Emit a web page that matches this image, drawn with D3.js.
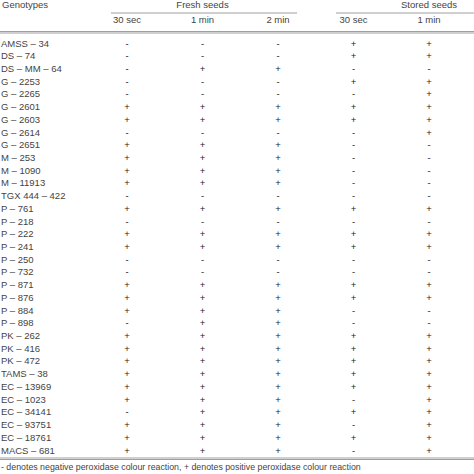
<!DOCTYPE html>
<html><head><meta charset="utf-8">
<script src="https://cdn.jsdelivr.net/npm/d3@7"></script>
<style>body{margin:0;background:#fff}svg{display:block}</style>
</head><body><svg id="chart" width="474" height="474"></svg>
<script>
var genotypes = ["AMSS – 34","DS – 74","DS – MM – 64","G – 2253","G – 2265","G – 2601","G – 2603","G – 2614","G – 2651","M – 253","M – 1090","M – 11913","TGX 444 – 422","P – 761","P – 218","P – 222","P – 241","P – 250","P – 732","P – 871","P – 876","P – 884","P – 898","PK – 262","PK – 416","PK – 472","TAMS – 38","EC – 13969","EC – 1023","EC – 34141","EC – 93751","EC – 18761","MACS – 681"];
var columns = ["30 sec","1 min","2 min","30 sec","1 min"];
var groups = ["Fresh seeds","Stored seeds"];
var reactions = ["---++","---++","-++--","---++","----+","+++++","+++++","----+","+++--","+++--","+++--","+++--","-----","+++++","-----","+++++","+++++","-----","-----","+++++","+++++","+++--","-++--","+++++","+++++","+++++","+++++","+++++","+++-+","-++++","+++-+","+++++","+++-+"];
var footnote = "- denotes negative peroxidase colour reaction, + denotes positive peroxidase colour reaction";

var svg = d3.select("#chart");
var font = "Liberation Sans, Arial, sans-serif", col = "#444";
var x = d3.scaleLinear().domain([0,4]).range([127,429]);
var y = d3.scaleLinear().domain([0,genotypes.length-1]).range([43,450]);

function txt(t,px,py,anchor){
	return svg.append("text").attr("x",px).attr("y",py).attr("text-anchor",anchor||"middle")
		.attr("font-family",font).attr("font-size",9.5).attr("fill",col).text(t);
}
function line(x1,x2,py,w){
	svg.append("line").attr("x1",x1).attr("x2",x2).attr("y1",py).attr("y2",py)
		.attr("stroke","#888").attr("stroke-width",w||0.8);
}
txt("Genotypes",2,8,"start");
txt(groups[0],x(1),8);
txt(groups[1],x(4),8);
line(111,297,13);
line(336,474,13);
columns.forEach(function(c,i){ txt(c,x(i),23); });
line(0,474,31.5);
line(0,474,33);
genotypes.forEach(function(g,r){
	txt(g,1,y(r)+3.5,"start");
	reactions[r].split("").forEach(function(s,i){ txt(s,x(i),y(r)+3.5).attr("fill","#222"); });
});
line(0,474,458);
line(0,474,459.5);
txt(footnote,1,470,"start").attr("font-size",8.8);
</script></body></html>
